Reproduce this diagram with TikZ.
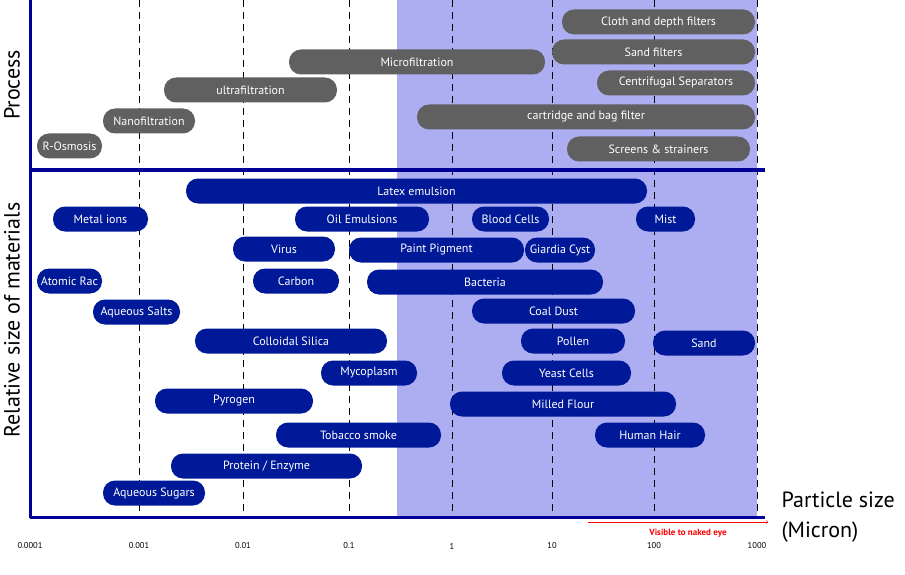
\documentclass[tikz,border=0pt]{standalone}
\usepackage{fontspec}
\setmainfont{PT Sans}
\begin{document}
\begin{tikzpicture}[x=1pt,y=-1pt,
  bar/.style={rounded corners=12pt, minimum height=25pt, inner sep=0pt, text=white, font=\fontsize{12}{12}\selectfont},
  pbar/.style={bar, fill=gray!75!black},
  mbar/.style={bar, fill=blue!55!black!90!cyan},
  axl/.style={font=\fontsize{8.5}{9}\selectfont},
  dl/.style={dashed, dash pattern=on 7pt off 5pt, line width=0.8pt}]
\newcommand\bb[6]{\node[#1, minimum width={#3-#2}] (#6) at ({(#2+#3)/2},#4) {#5};}
\useasboundingbox (0,0) rectangle (905,575);
\fill[blue!30!white!90!gray] (397,0) rectangle (757,517);
\foreach \x/\n in {139/a,243/b,349/c,452/d,552/e,654/f,757/g}
  \draw[dl] (\x,0) -- (\x,517);
\draw[blue!60!black, line width=3pt] (30,0) -- (30,518);
\draw[blue!60!black, line width=3pt] (30,170) -- (765,170);
\draw[blue!60!black, line width=3pt] (30,517) -- (765,517);
% process
\bb{pbar}{562}{755}{22}{Cloth and depth filters}{p1}
\bb{pbar}{552}{755}{52}{Sand filters}{p2}
\bb{pbar}{289}{545}{62}{Microfiltration}{p3}
\bb{pbar}{597}{755}{83}{Centrifugal Separators}{p4}
\bb{pbar}{164}{337}{90}{ultrafiltration}{p5}
\bb{pbar}{417}{755}{117}{cartridge and bag filter}{p6}
\bb{pbar}{103}{195}{121}{Nanofiltration}{p7}
\bb{pbar}{567}{750}{149}{Screens \& strainers}{p8}
\bb{pbar}{37}{102}{146}{R-Osmosis}{p9}
% materials
\bb{mbar}{186}{647}{191}{Latex emulsion}{m1}
\bb{mbar}{53}{148}{219}{Metal ions}{m2}
\bb{mbar}{295}{429}{219}{Oil Emulsions}{m3}
\bb{mbar}{472}{549}{219}{Blood Cells}{m4}
\bb{mbar}{636}{695}{219}{Mist}{m5}
\bb{mbar}{233}{335}{249}{Virus}{m6}
\bb{mbar}{349}{524}{250}{Paint Pigment}{m7}
\bb{mbar}{525}{595}{250}{Giardia Cyst}{m8}
\bb{mbar}{37}{102}{281}{Atomic Rac}{m9}
\bb{mbar}{253}{339}{281}{Carbon}{m10}
\bb{mbar}{367}{603}{282}{Bacteria}{m11}
\bb{mbar}{93}{180}{312}{Aqueous Salts}{m12}
\bb{mbar}{472}{635}{311}{Coal Dust}{m13}
\bb{mbar}{195}{387}{341}{Colloidal Silica}{m14}
\bb{mbar}{521}{625}{341}{Pollen}{m15}
\bb{mbar}{653}{755}{343}{Sand}{m16}
\bb{mbar}{321}{417}{373}{Mycoplasm}{m17}
\bb{mbar}{502}{631}{373}{Yeast Cells}{m18}
\bb{mbar}{155}{313}{401}{Pyrogen}{m19}
\bb{mbar}{450}{676}{404}{Milled Flour}{m20}
\bb{mbar}{276}{441}{435}{Tobacco smoke}{m21}
\bb{mbar}{595}{705}{435}{Human Hair}{m22}
\bb{mbar}{171}{362}{466}{Protein / Enzyme}{m23}
\bb{mbar}{103}{205}{493}{Aqueous Sugars}{m24}
% axis
\foreach \x/\t/\n in {30/0.0001/t0,139/0.001/t1,243/0.01/t2,349/0.1/t3,452/1/t4,552/10/t5,654/100/t6,757/1000/t7}
  \node[axl] (\n) at (\x,546) {\t};
\node[font=\fontsize{22}{24}\selectfont, anchor=west] (ps) at (778,500) {Particle size};
\node[font=\fontsize{22}{24}\selectfont, anchor=west] (mi) at (778,532) {(Micron)};
\coordinate (ra) at (588,522);
\coordinate (rb) at (768,522);
\draw[red, ->] (ra) -- (rb);
\node[red, font=\bfseries\fontsize{9}{9}\selectfont] (vis) at (688,533) {Visible to naked eye};
\node[rotate=90, font=\fontsize{22}{24}\selectfont] (pr) at (12,85) {Process};
\node[rotate=90, font=\fontsize{22}{24}\selectfont] (rs) at (12,320) {Relative size of materials};
\end{tikzpicture}
\end{document}
